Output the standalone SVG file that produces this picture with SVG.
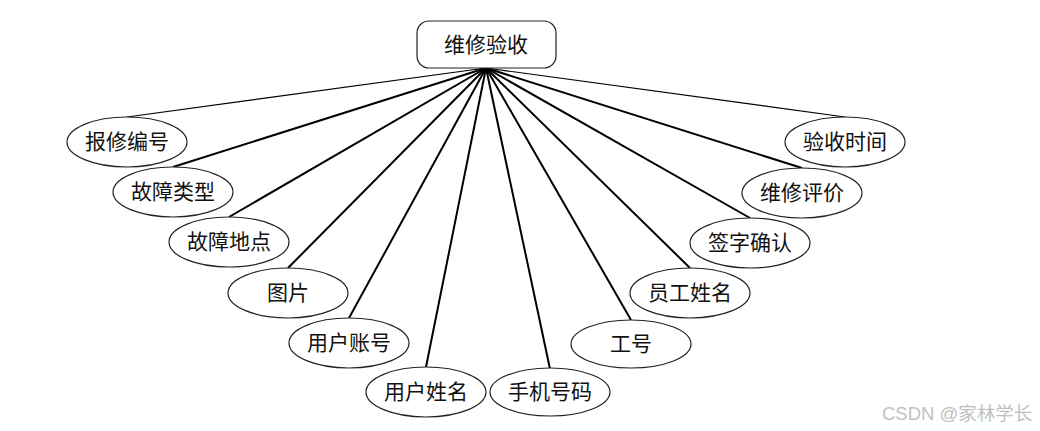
<svg xmlns="http://www.w3.org/2000/svg" width="1040" height="431" viewBox="0 0 1040 431">
<style>
.n ellipse,.n rect{fill:#fff;stroke:#222;stroke-width:1.2}
.n text{font-family:"Liberation Serif","Noto Sans CJK SC",serif;font-size:21px;fill:#111;text-anchor:middle;dominant-baseline:central}
.e line{stroke:#000;stroke-width:2}
.e line.t{stroke-width:1.2}
.wm{font-family:"Liberation Sans","Noto Sans CJK SC",sans-serif;font-size:18.5px;fill:#c0c0c0}
</style>
<rect width="1040" height="431" fill="#fff"/>
<g id="edges" class="e">
<line class="t" x1="486" y1="68" x2="127" y2="117"/>
<line x1="486" y1="68" x2="173" y2="167"/>
<line x1="486" y1="68" x2="229" y2="217"/>
<line x1="486" y1="68" x2="288" y2="268"/>
<line x1="486" y1="68" x2="349" y2="318"/>
<line x1="486" y1="68" x2="426" y2="367"/>
<line x1="486" y1="68" x2="550" y2="369"/>
<line x1="486" y1="68" x2="631" y2="320"/>
<line x1="486" y1="68" x2="690" y2="268"/>
<line x1="486" y1="68" x2="750" y2="218"/>
<line x1="486" y1="68" x2="802" y2="168"/>
<line class="t" x1="486" y1="68" x2="845" y2="117"/>
</g>
<g id="n0" class="n"><rect x="417" y="21" width="139" height="47" rx="12"/><text x="486" y="45">维修验收</text></g>
<g id="n1" class="n"><ellipse cx="127" cy="142" rx="60" ry="25"/><text x="127" y="142">报修编号</text></g>
<g id="n2" class="n"><ellipse cx="173" cy="192" rx="60" ry="25"/><text x="173" y="192">故障类型</text></g>
<g id="n3" class="n"><ellipse cx="229" cy="242" rx="60" ry="25"/><text x="229" y="242">故障地点</text></g>
<g id="n4" class="n"><ellipse cx="288" cy="293" rx="60" ry="25"/><text x="288" y="293">图片</text></g>
<g id="n5" class="n"><ellipse cx="349" cy="343" rx="60" ry="25"/><text x="349" y="343">用户账号</text></g>
<g id="n6" class="n"><ellipse cx="426" cy="392" rx="60" ry="25"/><text x="426" y="392">用户姓名</text></g>
<g id="n7" class="n"><ellipse cx="550" cy="392" rx="60" ry="24"/><text x="550" y="392">手机号码</text></g>
<g id="n8" class="n"><ellipse cx="631" cy="344" rx="60" ry="24"/><text x="631" y="344">工号</text></g>
<g id="n9" class="n"><ellipse cx="690" cy="293" rx="60" ry="25"/><text x="690" y="293">员工姓名</text></g>
<g id="n10" class="n"><ellipse cx="750" cy="243" rx="60" ry="25"/><text x="750" y="243">签字确认</text></g>
<g id="n11" class="n"><ellipse cx="802" cy="193" rx="60" ry="25"/><text x="802" y="193">维修评价</text></g>
<g id="n12" class="n"><ellipse cx="845" cy="142" rx="60" ry="25"/><text x="845" y="142">验收时间</text></g>
<text class="wm" x="882" y="420">CSDN @家林学长</text>
</svg>
